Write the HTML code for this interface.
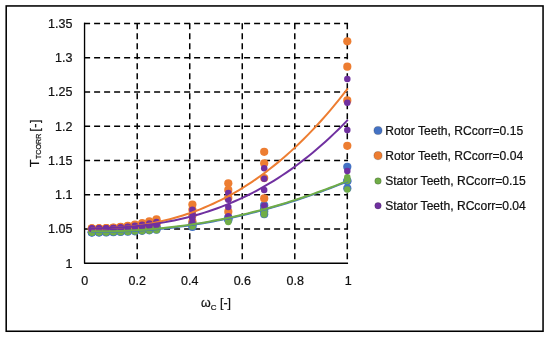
<!DOCTYPE html>
<html lang="en"><head><meta charset="utf-8"><title>Chart</title>
<style>html,body{margin:0;padding:0;background:#fff}svg{display:block}</style>
</head><body>
<svg width="550" height="339" viewBox="0 0 550 339">
<rect x="0" y="0" width="550" height="339" fill="#fff"/>
<rect x="6.2" y="5.95" width="536.85" height="325.3" fill="none" stroke="#000" stroke-width="1.55"/>
<g stroke="#000" stroke-width="1.5" stroke-dasharray="6 4" fill="none">
<path d="M84.10 228.94H348.05"/>
<path d="M84.10 194.69H348.05"/>
<path d="M84.10 160.43H348.05"/>
<path d="M84.10 126.17H348.05"/>
<path d="M84.10 91.91H348.05"/>
<path d="M84.10 57.66H348.05"/>
<path d="M84.10 23.40H348.05"/>
<path d="M137.22 23.30V263.20"/>
<path d="M189.74 23.30V263.20"/>
<path d="M242.26 23.30V263.20"/>
<path d="M294.78 23.30V263.20"/>
<path d="M347.30 23.30V263.20"/>
</g>
<path d="M84.55 22.65V263.20H348.05" stroke="#000" stroke-width="1.35" fill="none" stroke-linejoin="round"/>
<g fill="#4472C4">
<circle cx="91.88" cy="231.96" r="4.1"/>
<circle cx="91.88" cy="232.16" r="4.1"/>
<circle cx="91.88" cy="232.36" r="4.1"/>
<circle cx="91.88" cy="232.57" r="4.1"/>
<circle cx="99.06" cy="231.76" r="4.1"/>
<circle cx="99.06" cy="232.02" r="4.1"/>
<circle cx="99.06" cy="232.27" r="4.1"/>
<circle cx="99.06" cy="232.54" r="4.1"/>
<circle cx="106.24" cy="231.39" r="4.1"/>
<circle cx="106.24" cy="231.74" r="4.1"/>
<circle cx="106.24" cy="232.08" r="4.1"/>
<circle cx="106.24" cy="232.44" r="4.1"/>
<circle cx="113.42" cy="230.92" r="4.1"/>
<circle cx="113.42" cy="231.36" r="4.1"/>
<circle cx="113.42" cy="231.80" r="4.1"/>
<circle cx="113.42" cy="232.26" r="4.1"/>
<circle cx="120.60" cy="230.35" r="4.1"/>
<circle cx="120.60" cy="230.90" r="4.1"/>
<circle cx="120.60" cy="231.45" r="4.1"/>
<circle cx="120.60" cy="232.02" r="4.1"/>
<circle cx="127.78" cy="229.72" r="4.1"/>
<circle cx="127.78" cy="230.37" r="4.1"/>
<circle cx="127.78" cy="231.03" r="4.1"/>
<circle cx="127.78" cy="231.71" r="4.1"/>
<circle cx="134.96" cy="229.01" r="4.1"/>
<circle cx="134.96" cy="229.77" r="4.1"/>
<circle cx="134.96" cy="230.54" r="4.1"/>
<circle cx="134.96" cy="231.33" r="4.1"/>
<circle cx="142.14" cy="228.24" r="4.1"/>
<circle cx="142.14" cy="229.11" r="4.1"/>
<circle cx="142.14" cy="229.98" r="4.1"/>
<circle cx="142.14" cy="230.87" r="4.1"/>
<circle cx="149.32" cy="227.42" r="4.1"/>
<circle cx="149.32" cy="228.39" r="4.1"/>
<circle cx="149.32" cy="229.36" r="4.1"/>
<circle cx="149.32" cy="230.35" r="4.1"/>
<circle cx="156.50" cy="226.54" r="4.1"/>
<circle cx="156.50" cy="227.61" r="4.1"/>
<circle cx="156.50" cy="228.67" r="4.1"/>
<circle cx="156.50" cy="229.77" r="4.1"/>
<circle cx="192.40" cy="223.46" r="4.1"/>
<circle cx="192.40" cy="224.83" r="4.1"/>
<circle cx="192.40" cy="225.86" r="4.1"/>
<circle cx="192.40" cy="226.89" r="4.1"/>
<circle cx="228.30" cy="217.43" r="4.1"/>
<circle cx="228.30" cy="218.32" r="4.1"/>
<circle cx="228.30" cy="219.35" r="4.1"/>
<circle cx="228.30" cy="220.04" r="4.1"/>
<circle cx="264.20" cy="205.31" r="4.1"/>
<circle cx="264.20" cy="208.39" r="4.1"/>
<circle cx="264.20" cy="211.13" r="4.1"/>
<circle cx="264.20" cy="214.21" r="4.1"/>
<circle cx="347.30" cy="166.80" r="4.1"/>
<circle cx="347.30" cy="180.78" r="4.1"/>
<circle cx="347.30" cy="181.33" r="4.1"/>
<circle cx="347.30" cy="188.31" r="4.1"/>
</g>
<g fill="#ED7D31">
<circle cx="91.88" cy="228.46" r="4.1"/>
<circle cx="91.88" cy="228.55" r="4.1"/>
<circle cx="91.88" cy="228.64" r="4.1"/>
<circle cx="91.88" cy="228.74" r="4.1"/>
<circle cx="99.06" cy="228.39" r="4.1"/>
<circle cx="99.06" cy="228.49" r="4.1"/>
<circle cx="99.06" cy="228.58" r="4.1"/>
<circle cx="99.06" cy="228.68" r="4.1"/>
<circle cx="106.24" cy="228.13" r="4.1"/>
<circle cx="106.24" cy="228.25" r="4.1"/>
<circle cx="106.24" cy="228.38" r="4.1"/>
<circle cx="106.24" cy="228.51" r="4.1"/>
<circle cx="113.42" cy="227.64" r="4.1"/>
<circle cx="113.42" cy="227.84" r="4.1"/>
<circle cx="113.42" cy="228.03" r="4.1"/>
<circle cx="113.42" cy="228.23" r="4.1"/>
<circle cx="120.60" cy="226.92" r="4.1"/>
<circle cx="120.60" cy="227.22" r="4.1"/>
<circle cx="120.60" cy="227.52" r="4.1"/>
<circle cx="120.60" cy="227.83" r="4.1"/>
<circle cx="127.78" cy="225.94" r="4.1"/>
<circle cx="127.78" cy="226.40" r="4.1"/>
<circle cx="127.78" cy="226.85" r="4.1"/>
<circle cx="127.78" cy="227.32" r="4.1"/>
<circle cx="134.96" cy="224.70" r="4.1"/>
<circle cx="134.96" cy="225.36" r="4.1"/>
<circle cx="134.96" cy="226.02" r="4.1"/>
<circle cx="134.96" cy="226.70" r="4.1"/>
<circle cx="142.14" cy="223.18" r="4.1"/>
<circle cx="142.14" cy="224.10" r="4.1"/>
<circle cx="142.14" cy="225.02" r="4.1"/>
<circle cx="142.14" cy="225.96" r="4.1"/>
<circle cx="149.32" cy="221.38" r="4.1"/>
<circle cx="149.32" cy="222.61" r="4.1"/>
<circle cx="149.32" cy="223.84" r="4.1"/>
<circle cx="149.32" cy="225.11" r="4.1"/>
<circle cx="156.50" cy="219.28" r="4.1"/>
<circle cx="156.50" cy="220.89" r="4.1"/>
<circle cx="156.50" cy="222.49" r="4.1"/>
<circle cx="156.50" cy="224.15" r="4.1"/>
<circle cx="192.40" cy="204.48" r="4.1"/>
<circle cx="192.40" cy="209.76" r="4.1"/>
<circle cx="192.40" cy="215.24" r="4.1"/>
<circle cx="192.40" cy="221.61" r="4.1"/>
<circle cx="228.30" cy="183.31" r="4.1"/>
<circle cx="228.30" cy="189.96" r="4.1"/>
<circle cx="228.30" cy="198.11" r="4.1"/>
<circle cx="228.30" cy="211.68" r="4.1"/>
<circle cx="264.20" cy="151.80" r="4.1"/>
<circle cx="264.20" cy="163.31" r="4.1"/>
<circle cx="264.20" cy="178.04" r="4.1"/>
<circle cx="264.20" cy="198.39" r="4.1"/>
<circle cx="347.30" cy="41.35" r="4.1"/>
<circle cx="347.30" cy="66.63" r="4.1"/>
<circle cx="347.30" cy="100.41" r="4.1"/>
<circle cx="347.30" cy="145.84" r="4.1"/>
</g>
<g fill="#70AD47">
<circle cx="91.88" cy="232.03" r="3.25"/>
<circle cx="91.88" cy="232.21" r="3.25"/>
<circle cx="91.88" cy="232.39" r="3.25"/>
<circle cx="91.88" cy="232.57" r="3.25"/>
<circle cx="99.06" cy="231.84" r="3.25"/>
<circle cx="99.06" cy="232.07" r="3.25"/>
<circle cx="99.06" cy="232.30" r="3.25"/>
<circle cx="99.06" cy="232.55" r="3.25"/>
<circle cx="106.24" cy="231.49" r="3.25"/>
<circle cx="106.24" cy="231.81" r="3.25"/>
<circle cx="106.24" cy="232.13" r="3.25"/>
<circle cx="106.24" cy="232.46" r="3.25"/>
<circle cx="113.42" cy="231.04" r="3.25"/>
<circle cx="113.42" cy="231.46" r="3.25"/>
<circle cx="113.42" cy="231.89" r="3.25"/>
<circle cx="113.42" cy="232.32" r="3.25"/>
<circle cx="120.60" cy="230.50" r="3.25"/>
<circle cx="120.60" cy="231.04" r="3.25"/>
<circle cx="120.60" cy="231.58" r="3.25"/>
<circle cx="120.60" cy="232.13" r="3.25"/>
<circle cx="127.78" cy="229.90" r="3.25"/>
<circle cx="127.78" cy="230.55" r="3.25"/>
<circle cx="127.78" cy="231.20" r="3.25"/>
<circle cx="127.78" cy="231.88" r="3.25"/>
<circle cx="134.96" cy="229.23" r="3.25"/>
<circle cx="134.96" cy="230.00" r="3.25"/>
<circle cx="134.96" cy="230.77" r="3.25"/>
<circle cx="134.96" cy="231.57" r="3.25"/>
<circle cx="142.14" cy="228.50" r="3.25"/>
<circle cx="142.14" cy="229.39" r="3.25"/>
<circle cx="142.14" cy="230.29" r="3.25"/>
<circle cx="142.14" cy="231.21" r="3.25"/>
<circle cx="149.32" cy="227.72" r="3.25"/>
<circle cx="149.32" cy="228.73" r="3.25"/>
<circle cx="149.32" cy="229.74" r="3.25"/>
<circle cx="149.32" cy="230.79" r="3.25"/>
<circle cx="156.50" cy="226.89" r="3.25"/>
<circle cx="156.50" cy="228.02" r="3.25"/>
<circle cx="156.50" cy="229.15" r="3.25"/>
<circle cx="156.50" cy="230.31" r="3.25"/>
<circle cx="192.40" cy="223.46" r="3.25"/>
<circle cx="192.40" cy="224.83" r="3.25"/>
<circle cx="192.40" cy="225.86" r="3.25"/>
<circle cx="192.40" cy="226.61" r="3.25"/>
<circle cx="228.30" cy="217.98" r="3.25"/>
<circle cx="228.30" cy="219.35" r="3.25"/>
<circle cx="228.30" cy="220.72" r="3.25"/>
<circle cx="228.30" cy="222.09" r="3.25"/>
<circle cx="264.20" cy="208.73" r="3.25"/>
<circle cx="264.20" cy="210.44" r="3.25"/>
<circle cx="264.20" cy="212.50" r="3.25"/>
<circle cx="264.20" cy="214.42" r="3.25"/>
<circle cx="347.30" cy="177.28" r="3.25"/>
<circle cx="347.30" cy="180.09" r="3.25"/>
<circle cx="347.30" cy="180.64" r="3.25"/>
<circle cx="347.30" cy="189.62" r="3.25"/>
</g>
<g fill="#7030A0">
<circle cx="91.88" cy="228.53" r="3.25"/>
<circle cx="91.88" cy="228.60" r="3.25"/>
<circle cx="91.88" cy="228.67" r="3.25"/>
<circle cx="91.88" cy="228.74" r="3.25"/>
<circle cx="99.06" cy="228.48" r="3.25"/>
<circle cx="99.06" cy="228.55" r="3.25"/>
<circle cx="99.06" cy="228.62" r="3.25"/>
<circle cx="99.06" cy="228.69" r="3.25"/>
<circle cx="106.24" cy="228.29" r="3.25"/>
<circle cx="106.24" cy="228.38" r="3.25"/>
<circle cx="106.24" cy="228.47" r="3.25"/>
<circle cx="106.24" cy="228.56" r="3.25"/>
<circle cx="113.42" cy="227.94" r="3.25"/>
<circle cx="113.42" cy="228.07" r="3.25"/>
<circle cx="113.42" cy="228.20" r="3.25"/>
<circle cx="113.42" cy="228.34" r="3.25"/>
<circle cx="120.60" cy="227.42" r="3.25"/>
<circle cx="120.60" cy="227.62" r="3.25"/>
<circle cx="120.60" cy="227.82" r="3.25"/>
<circle cx="120.60" cy="228.03" r="3.25"/>
<circle cx="127.78" cy="226.71" r="3.25"/>
<circle cx="127.78" cy="227.01" r="3.25"/>
<circle cx="127.78" cy="227.32" r="3.25"/>
<circle cx="127.78" cy="227.64" r="3.25"/>
<circle cx="134.96" cy="225.81" r="3.25"/>
<circle cx="134.96" cy="226.25" r="3.25"/>
<circle cx="134.96" cy="226.70" r="3.25"/>
<circle cx="134.96" cy="227.15" r="3.25"/>
<circle cx="142.14" cy="224.71" r="3.25"/>
<circle cx="142.14" cy="225.33" r="3.25"/>
<circle cx="142.14" cy="225.95" r="3.25"/>
<circle cx="142.14" cy="226.58" r="3.25"/>
<circle cx="149.32" cy="223.40" r="3.25"/>
<circle cx="149.32" cy="224.23" r="3.25"/>
<circle cx="149.32" cy="225.07" r="3.25"/>
<circle cx="149.32" cy="225.92" r="3.25"/>
<circle cx="156.50" cy="221.89" r="3.25"/>
<circle cx="156.50" cy="222.97" r="3.25"/>
<circle cx="156.50" cy="224.06" r="3.25"/>
<circle cx="156.50" cy="225.17" r="3.25"/>
<circle cx="192.40" cy="209.76" r="3.25"/>
<circle cx="192.40" cy="213.87" r="3.25"/>
<circle cx="192.40" cy="217.98" r="3.25"/>
<circle cx="192.40" cy="222.57" r="3.25"/>
<circle cx="228.30" cy="193.04" r="3.25"/>
<circle cx="228.30" cy="199.82" r="3.25"/>
<circle cx="228.30" cy="206.88" r="3.25"/>
<circle cx="228.30" cy="216.27" r="3.25"/>
<circle cx="264.20" cy="168.31" r="3.25"/>
<circle cx="264.20" cy="178.72" r="3.25"/>
<circle cx="264.20" cy="189.96" r="3.25"/>
<circle cx="264.20" cy="205.79" r="3.25"/>
<circle cx="347.30" cy="79.03" r="3.25"/>
<circle cx="347.30" cy="102.74" r="3.25"/>
<circle cx="347.30" cy="129.94" r="3.25"/>
<circle cx="347.30" cy="170.91" r="3.25"/>
</g>
<path d="M91.88 231.79 L96.21 231.84 L100.54 231.86 L104.87 231.84 L109.20 231.80 L113.53 231.72 L117.85 231.62 L122.18 231.48 L126.51 231.31 L130.84 231.11 L135.17 230.88 L139.50 230.62 L143.83 230.32 L148.16 230.00 L152.49 229.64 L156.82 229.26 L161.15 228.84 L165.48 228.39 L169.80 227.91 L174.13 227.40 L178.46 226.86 L182.79 226.28 L187.12 225.68 L191.45 225.04 L195.78 224.38 L200.11 223.68 L204.44 222.95 L208.77 222.19 L213.10 221.40 L217.43 220.58 L221.75 219.72 L226.08 218.84 L230.41 217.93 L234.74 216.98 L239.07 216.00 L243.40 214.99 L247.73 213.95 L252.06 212.88 L256.39 211.78 L260.72 210.65 L265.05 209.48 L269.38 208.29 L273.70 207.06 L278.03 205.80 L282.36 204.51 L286.69 203.20 L291.02 201.84 L295.35 200.46 L299.68 199.05 L304.01 197.61 L308.34 196.13 L312.67 194.62 L317.00 193.09 L321.33 191.52 L325.65 189.92 L329.98 188.29 L334.31 186.63 L338.64 184.93 L342.97 183.21 L347.30 181.45" stroke="#4472C4" stroke-width="2" fill="none" stroke-linecap="round" stroke-linejoin="round"/>
<path d="M91.88 228.24 L96.21 228.26 L100.54 228.23 L104.87 228.14 L109.20 228.00 L113.53 227.80 L117.85 227.53 L122.18 227.21 L126.51 226.83 L130.84 226.38 L135.17 225.87 L139.50 225.29 L143.83 224.64 L148.16 223.92 L152.49 223.13 L156.82 222.27 L161.15 221.34 L165.48 220.32 L169.80 219.23 L174.13 218.06 L178.46 216.82 L182.79 215.48 L187.12 214.07 L191.45 212.57 L195.78 210.98 L200.11 209.31 L204.44 207.55 L208.77 205.69 L213.10 203.74 L217.43 201.70 L221.75 199.56 L226.08 197.33 L230.41 195.00 L234.74 192.56 L239.07 190.03 L243.40 187.39 L247.73 184.65 L252.06 181.80 L256.39 178.84 L260.72 175.77 L265.05 172.60 L269.38 169.31 L273.70 165.90 L278.03 162.39 L282.36 158.75 L286.69 155.00 L291.02 151.12 L295.35 147.13 L299.68 143.01 L304.01 138.77 L308.34 134.40 L312.67 129.90 L317.00 125.27 L321.33 120.52 L325.65 115.63 L329.98 110.61 L334.31 105.45 L338.64 100.16 L342.97 94.73 L347.30 89.16" stroke="#ED7D31" stroke-width="2" fill="none" stroke-linecap="round" stroke-linejoin="round"/>
<path d="M91.88 231.24 L96.21 231.29 L100.54 231.31 L104.87 231.29 L109.20 231.25 L113.53 231.17 L117.85 231.07 L122.18 230.93 L126.51 230.76 L130.84 230.56 L135.17 230.33 L139.50 230.07 L143.83 229.77 L148.16 229.45 L152.49 229.09 L156.82 228.71 L161.15 228.29 L165.48 227.84 L169.80 227.36 L174.13 226.85 L178.46 226.31 L182.79 225.74 L187.12 225.13 L191.45 224.50 L195.78 223.83 L200.11 223.13 L204.44 222.40 L208.77 221.64 L213.10 220.85 L217.43 220.03 L221.75 219.18 L226.08 218.29 L230.41 217.38 L234.74 216.43 L239.07 215.45 L243.40 214.44 L247.73 213.40 L252.06 212.33 L256.39 211.23 L260.72 210.10 L265.05 208.93 L269.38 207.74 L273.70 206.51 L278.03 205.26 L282.36 203.97 L286.69 202.65 L291.02 201.30 L295.35 199.91 L299.68 198.50 L304.01 197.06 L308.34 195.58 L312.67 194.08 L317.00 192.54 L321.33 190.97 L325.65 189.37 L329.98 187.74 L334.31 186.08 L338.64 184.39 L342.97 182.66 L347.30 180.91" stroke="#70AD47" stroke-width="2" fill="none" stroke-linecap="round" stroke-linejoin="round"/>
<path d="M91.88 228.22 L96.21 228.19 L100.54 228.13 L104.87 228.04 L109.20 227.91 L113.53 227.74 L117.85 227.53 L122.18 227.27 L126.51 226.98 L130.84 226.64 L135.17 226.25 L139.50 225.82 L143.83 225.33 L148.16 224.80 L152.49 224.22 L156.82 223.58 L161.15 222.88 L165.48 222.13 L169.80 221.33 L174.13 220.46 L178.46 219.53 L182.79 218.54 L187.12 217.49 L191.45 216.37 L195.78 215.18 L200.11 213.93 L204.44 212.61 L208.77 211.21 L213.10 209.75 L217.43 208.21 L221.75 206.59 L226.08 204.90 L230.41 203.13 L234.74 201.28 L239.07 199.35 L243.40 197.34 L247.73 195.24 L252.06 193.05 L256.39 190.78 L260.72 188.43 L265.05 185.98 L269.38 183.44 L273.70 180.80 L278.03 178.07 L282.36 175.25 L286.69 172.33 L291.02 169.31 L295.35 166.19 L299.68 162.97 L304.01 159.64 L308.34 156.21 L312.67 152.68 L317.00 149.04 L321.33 145.28 L325.65 141.42 L329.98 137.45 L334.31 133.36 L338.64 129.16 L342.97 124.84 L347.30 120.40" stroke="#7030A0" stroke-width="2" fill="none" stroke-linecap="round" stroke-linejoin="round"/>
<g font-family="'Liberation Sans', sans-serif" font-size="12.5" fill="#111" stroke="#111" stroke-width="0.22">
<text x="72.4" y="267.60" text-anchor="end">1</text>
<text x="72.4" y="233.34" text-anchor="end">1.05</text>
<text x="72.4" y="199.09" text-anchor="end">1.1</text>
<text x="72.4" y="164.83" text-anchor="end">1.15</text>
<text x="72.4" y="130.57" text-anchor="end">1.2</text>
<text x="72.4" y="96.31" text-anchor="end">1.25</text>
<text x="72.4" y="62.06" text-anchor="end">1.3</text>
<text x="72.4" y="27.80" text-anchor="end">1.35</text>
<text x="84.70" y="285.2" text-anchor="middle">0</text>
<text x="137.22" y="285.2" text-anchor="middle">0.2</text>
<text x="189.74" y="285.2" text-anchor="middle">0.4</text>
<text x="242.36" y="285.2" text-anchor="middle">0.6</text>
<text x="295.28" y="285.2" text-anchor="middle">0.8</text>
<text x="348.20" y="285.2" text-anchor="middle">1</text>
<text x="216" y="307.1" text-anchor="middle" font-size="12.4">ω<tspan font-size="8" dy="3">C</tspan><tspan dy="-3"> [-]</tspan></text>
<g transform="translate(39.3 167.2) rotate(-90)" font-size="12.6"><text x="0" y="0">T</text><text transform="translate(8.2 1.9) scale(0.88 1)" font-size="8.1">TCORR</text><text x="35.4" y="0" letter-spacing="0.6">[-]</text></g>
<circle cx="378" cy="130.5" r="4.1" fill="#4472C4"/>
<text x="385.2" y="134.8" font-size="12.1">Rotor Teeth, RCcorr=0.15</text>
<circle cx="378" cy="155.6" r="4.1" fill="#ED7D31"/>
<text x="385.2" y="159.9" font-size="12.1">Rotor Teeth, RCcorr=0.04</text>
<circle cx="378" cy="181.0" r="3.25" fill="#70AD47"/>
<text x="385.2" y="185.3" font-size="12.1">Stator Teeth, RCcorr=0.15</text>
<circle cx="378" cy="205.7" r="3.25" fill="#7030A0"/>
<text x="385.2" y="210.0" font-size="12.1">Stator Teeth, RCcorr=0.04</text>
</g>
</svg>
</body></html>
